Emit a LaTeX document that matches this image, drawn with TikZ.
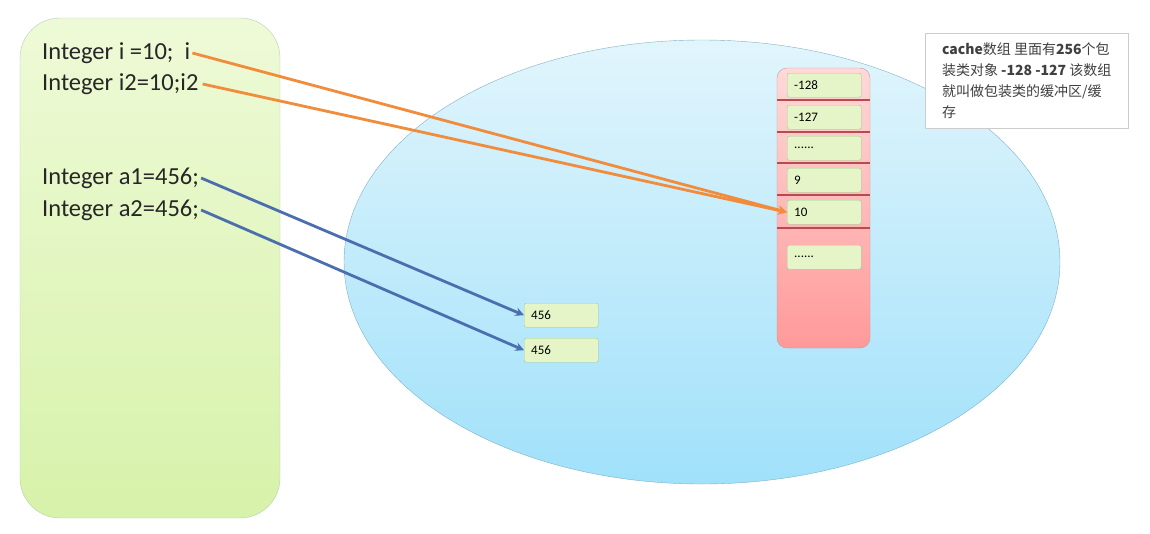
\documentclass[tikz,border=0pt]{standalone}
\usepackage{fontspec}
\setmainfont{Carlito}
\newfontfamily\cjk{Noto Sans CJK SC}
\definecolor{lg1}{RGB}{238,250,215}
\definecolor{lg2}{RGB}{215,242,170}
\definecolor{sb1}{RGB}{225,245,252}
\definecolor{sb2}{RGB}{160,225,250}
\definecolor{oa}{RGB}{240,140,60}
\definecolor{ba}{RGB}{75,110,175}
\definecolor{cf}{RGB}{230,245,200}
\begin{document}
\begin{tikzpicture}[x=1pt,y=-1pt,
  cell/.style={draw=green!50!black!40,fill=cf,rounded corners=2pt,text width=60pt,minimum height=24pt,anchor=north west,inner xsep=7pt,inner ysep=0pt,align=left,font=\fontsize{13}{14}\selectfont},
  code/.style={anchor=west,font=\fontsize{24.5}{26}\selectfont,inner sep=0pt,text=black!85},
  oarr/.style={draw=oa,line width=2.8pt,-stealth},
  barr/.style={draw=ba,line width=2.8pt,-stealth}]
\useasboundingbox (0,0) rectangle (1150,533);
\draw[green!40!black!30,top color=lg1,bottom color=lg2,rounded corners=40pt] (20,18) rectangle (280,518);
\draw[cyan!60!black!60,top color=sb1,bottom color=sb2] (702,262) ellipse (358 and 222);
\node[draw=gray!40,fill=white,anchor=north west,minimum width=203pt,minimum height=95pt,align=left,font=\cjk\fontsize{14}{21}\selectfont,text=black!75,inner xsep=8pt,inner ysep=5pt] (note) at (925,33) {\textbf{cache}数组 里面有\textbf{256}个包\\装类对象 \textbf{-128 -127} 该数组\\就叫做包装类的缓冲区/缓\\存};
\draw[red!50!black!40,top color=red!15,bottom color=red!40,rounded corners=10pt] (777,68) rectangle (870,348);
\foreach \y in {100,132,163,195,228} \draw[red!60!black!70,line width=2.5pt] (777,\y) -- (870,\y);
\node[cell] (c1) at (787,73) {-128};
\node[cell] (c2) at (787,105) {-127};
\node[cell] (c3) at (787,136) {......};
\node[cell] (c4) at (787,168) {9};
\node[cell] (c5) at (787,200) {10};
\node[cell] (c6) at (787,245) {......};
\node[cell] (v1) at (524,303) {456};
\node[cell] (v2) at (524,338) {456};
\node[code] (t1) at (42,53) {Integer i =10;\ \ i};
\node[code] (t2) at (42,84) {Integer i2=10;i2};
\node[code] (t3) at (42,178) {Integer a1=456;};
\node[code] (t4) at (42,210) {Integer a2=456;};
\draw[oarr] ([xshift=2pt]t1.east) -- (c5.west);
\draw[oarr] ([xshift=4pt]t2.east) -- (c5.west);
\draw[barr] ([xshift=2pt]t3.east) -- (v1.west);
\draw[barr] ([xshift=2pt]t4.east) -- (v2.west);
\end{tikzpicture}
\end{document}
